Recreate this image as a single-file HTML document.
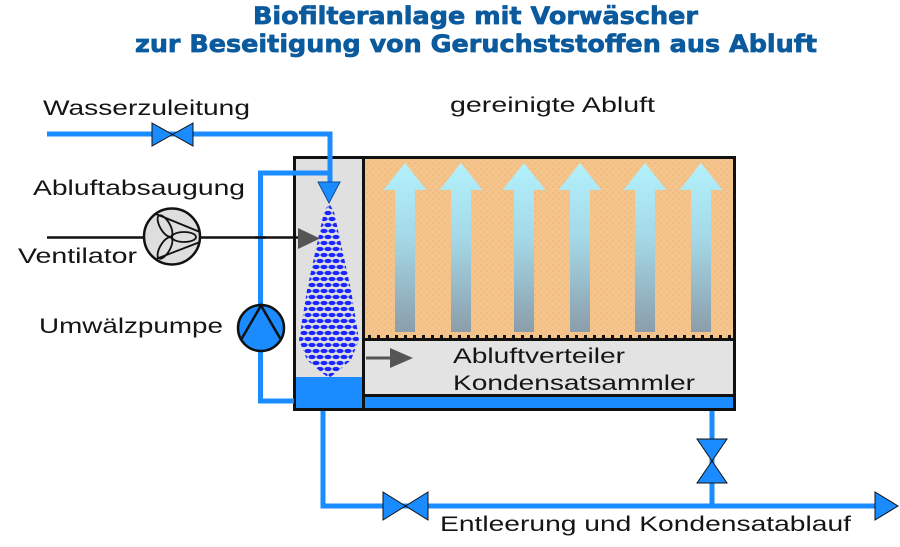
<!DOCTYPE html>
<html>
<head>
<meta charset="utf-8">
<style>
  html,body{margin:0;padding:0;background:#fff;}
  svg{display:block;}
  .lbl{font-family:"Liberation Sans",Arial,sans-serif;font-size:21px;fill:#151515;}
  .ttl{font-family:"DejaVu Sans","Liberation Sans",sans-serif;font-weight:bold;font-size:24px;fill:#0b5a9e;stroke:#0b5a9e;stroke-width:0.7;}
</style>
</head>
<body>
<svg width="900" height="547" viewBox="0 0 900 547" xmlns="http://www.w3.org/2000/svg">
  <defs>
    <linearGradient id="ag" gradientUnits="userSpaceOnUse" x1="0" y1="163" x2="0" y2="332">
      <stop offset="0" stop-color="#b2f2fd"/>
      <stop offset="0.45" stop-color="#a4d8e6"/>
      <stop offset="1" stop-color="#8b9dab"/>
    </linearGradient>
    <pattern id="dots" width="6" height="6" patternUnits="userSpaceOnUse">
      <rect width="6" height="6" fill="#f5c48b"/>
      <circle cx="1" cy="1" r="0.6" fill="#c98f5a" opacity="0.55"/>
      <circle cx="4" cy="4" r="0.6" fill="#c98f5a" opacity="0.45"/>
    </pattern>
    <pattern id="spray" x="0" y="204" width="8" height="12" patternUnits="userSpaceOnUse">
      <ellipse cx="4" cy="3" rx="3.6" ry="2.1" fill="#1a26ff"/>
      <ellipse cx="0" cy="9" rx="3.6" ry="2.1" fill="#1a26ff"/>
      <ellipse cx="8" cy="9" rx="3.6" ry="2.1" fill="#1a26ff"/>
    </pattern>
  </defs>

  <!-- Title -->
  <text class="ttl" x="253" y="24" textLength="445" lengthAdjust="spacingAndGlyphs">Biofilteranlage mit Vorwäscher</text>
  <text class="ttl" x="135" y="52" textLength="682" lengthAdjust="spacingAndGlyphs">zur Beseitigung von Geruchststoffen aus Abluft</text>

  <!-- Labels -->
  <text class="lbl" x="43" y="115" textLength="207" lengthAdjust="spacingAndGlyphs">Wasserzuleitung</text>
  <text class="lbl" x="450" y="112" textLength="205" lengthAdjust="spacingAndGlyphs">gereinigte Abluft</text>
  <text class="lbl" x="33" y="195" textLength="212" lengthAdjust="spacingAndGlyphs">Abluftabsaugung</text>
  <text class="lbl" x="18" y="263" textLength="119" lengthAdjust="spacingAndGlyphs">Ventilator</text>
  <text class="lbl" x="39" y="333" textLength="184" lengthAdjust="spacingAndGlyphs">Umwälzpumpe</text>

  <!-- Box regions -->
  <rect x="295" y="158" width="68" height="220" fill="#e0e0e0"/>
  <rect x="295" y="377" width="68" height="33" fill="#1a8cff"/>
  <rect x="364" y="158" width="371" height="180" fill="url(#dots)"/>
  <rect x="364" y="341" width="371" height="53" fill="#e3e3e3"/>
  <rect x="364" y="394" width="371" height="3" fill="#111"/>
  <rect x="364" y="397" width="371" height="13" fill="#1a8cff"/>
  <!-- perforated plate -->
  <rect x="364" y="338" width="371" height="3" fill="#111"/>
  <g fill="#111">
    <rect x="368" y="335" width="3" height="3"/><rect x="377" y="335" width="3" height="3"/>
    <rect x="386" y="335" width="3" height="3"/><rect x="395" y="335" width="3" height="3"/>
    <rect x="404" y="335" width="3" height="3"/><rect x="413" y="335" width="3" height="3"/>
    <rect x="422" y="335" width="3" height="3"/><rect x="431" y="335" width="3" height="3"/>
    <rect x="440" y="335" width="3" height="3"/><rect x="449" y="335" width="3" height="3"/>
    <rect x="458" y="335" width="3" height="3"/><rect x="467" y="335" width="3" height="3"/>
    <rect x="476" y="335" width="3" height="3"/><rect x="485" y="335" width="3" height="3"/>
    <rect x="494" y="335" width="3" height="3"/><rect x="503" y="335" width="3" height="3"/>
    <rect x="512" y="335" width="3" height="3"/><rect x="521" y="335" width="3" height="3"/>
    <rect x="530" y="335" width="3" height="3"/><rect x="539" y="335" width="3" height="3"/>
    <rect x="548" y="335" width="3" height="3"/><rect x="557" y="335" width="3" height="3"/>
    <rect x="566" y="335" width="3" height="3"/><rect x="575" y="335" width="3" height="3"/>
    <rect x="584" y="335" width="3" height="3"/><rect x="593" y="335" width="3" height="3"/>
    <rect x="602" y="335" width="3" height="3"/><rect x="611" y="335" width="3" height="3"/>
    <rect x="620" y="335" width="3" height="3"/><rect x="629" y="335" width="3" height="3"/>
    <rect x="638" y="335" width="3" height="3"/><rect x="647" y="335" width="3" height="3"/>
    <rect x="656" y="335" width="3" height="3"/><rect x="665" y="335" width="3" height="3"/>
    <rect x="674" y="335" width="3" height="3"/><rect x="683" y="335" width="3" height="3"/>
    <rect x="692" y="335" width="3" height="3"/><rect x="701" y="335" width="3" height="3"/>
    <rect x="710" y="335" width="3" height="3"/><rect x="719" y="335" width="3" height="3"/>
    <rect x="728" y="335" width="3" height="3"/>
  </g>

  <!-- Up arrows -->
  <g fill="url(#ag)">
    <path d="M395 332 V190 H383.5 L405 163 L426.5 190 H415 V332 Z"/>
    <path d="M451 332 V190 H439.5 L461 163 L482.5 190 H471 V332 Z"/>
    <path d="M514 332 V190 H502.5 L524 163 L545.5 190 H534 V332 Z"/>
    <path d="M570 332 V190 H558.5 L580 163 L601.5 190 H590 V332 Z"/>
    <path d="M635 332 V190 H623.5 L645 163 L666.5 190 H655 V332 Z"/>
    <path d="M691 332 V190 H679.5 L701 163 L722.5 190 H711 V332 Z"/>
  </g>

  <!-- Spray cone -->
  <polygon points="329,203 334,212 338,230 351,290 359,340 351,360 337,372 329,378 321,372 307,360 299,340 307,290 320,230 324,212" fill="url(#spray)"/>

  <!-- Box borders -->
  <rect x="294.5" y="157.5" width="440" height="252" fill="none" stroke="#111" stroke-width="3"/>
  <line x1="363.5" y1="157" x2="363.5" y2="411" stroke="#111" stroke-width="3"/>

  <!-- Abluftverteiler text and arrow -->
  <line x1="366" y1="358" x2="392" y2="358" stroke="#555" stroke-width="3"/>
  <polygon points="390,348 390,368 413,358" fill="#555"/>
  <text class="lbl" x="453" y="363" textLength="172" lengthAdjust="spacingAndGlyphs">Abluftverteiler</text>
  <text class="lbl" x="453" y="390" textLength="242" lengthAdjust="spacingAndGlyphs">Kondensatsammler</text>

  <!-- Fan line -->
  <line x1="47" y1="237.5" x2="298" y2="237.5" stroke="#111" stroke-width="2.5"/>
  <polygon points="298,228 298,249 320,238.5" fill="#555"/>

  <!-- Pipes -->
  <g fill="none" stroke="#1a8cff" stroke-width="5" stroke-linejoin="miter">
    <path d="M47 134 H330 V184"/>
    <path d="M330 173 H260.5 V401 H294"/>
    <path d="M323 411 V506 H877"/>
    <path d="M712 411 V506"/>
  </g>
  <line x1="255" y1="237.5" x2="266" y2="237.5" stroke="#111" stroke-width="2.5"/>

  <!-- Spray nozzle arrowhead -->
  <polygon points="318,182 340,182 329,203" fill="#1a8cff" stroke="#0b4f99" stroke-width="1"/>

  <!-- Valves -->
  <g fill="#1a8cff" stroke="#111" stroke-width="1">
    <polygon points="152,123 172.5,134.5 152,146"/>
    <polygon points="193,123 172.5,134.5 193,146"/>
    <polygon points="383,492 405.5,506 383,520"/>
    <polygon points="428,492 405.5,506 428,520"/>
    <polygon points="697,439 727,439 712,461"/>
    <polygon points="697,483 727,483 712,461"/>
    <polygon points="875,492 875,520 898,506"/>
  </g>

  <!-- Fan -->
  <circle cx="172" cy="236.5" r="28" fill="#dedede" stroke="#111" stroke-width="2.5"/>
  <g fill="none" stroke="#111" stroke-width="1.8">
    <line x1="156" y1="214" x2="200" y2="232"/>
    <line x1="156" y1="259" x2="200" y2="242"/>
    <ellipse cx="165" cy="226" rx="12" ry="5" transform="rotate(60 165 226)"/>
    <ellipse cx="184" cy="237" rx="12" ry="5"/>
    <ellipse cx="165" cy="248" rx="12" ry="5" transform="rotate(-60 165 248)"/>
  </g>

  <!-- Pump -->
  <circle cx="261" cy="328" r="23" fill="#1a8cff" stroke="#111" stroke-width="2.5"/>
  <polyline points="241.5,339 261,305.5 280.5,339" fill="none" stroke="#111" stroke-width="2.5"/>

  <!-- Bottom label -->
  <text class="lbl" x="440" y="531" textLength="411" lengthAdjust="spacingAndGlyphs">Entleerung und Kondensatablauf</text>
</svg>
</body>
</html>
